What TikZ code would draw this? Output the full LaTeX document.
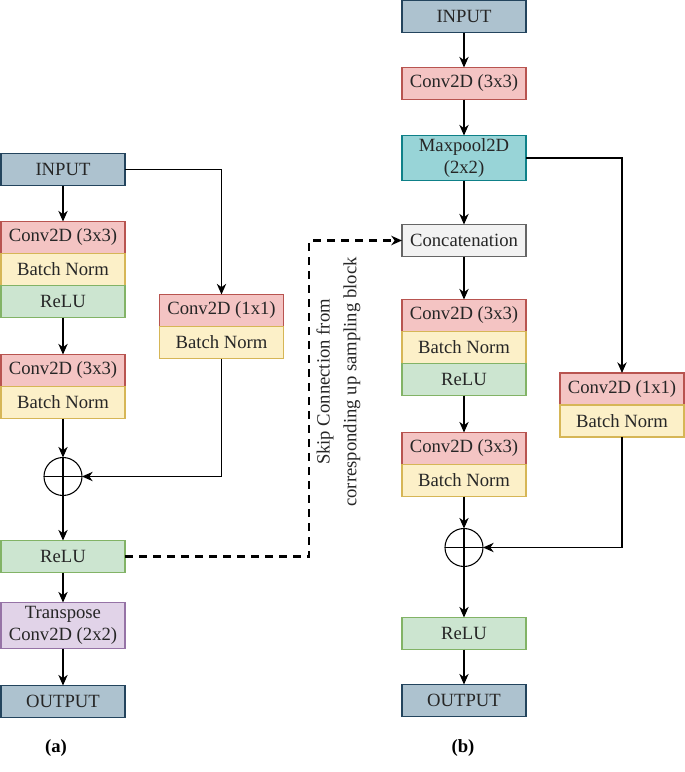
\documentclass[tikz,border=0pt]{standalone}
\usepackage{fontspec}
\setmainfont{Liberation Serif}
\usetikzlibrary{positioning,arrows.meta}

\definecolor{ioFill}{HTML}{ADC2CF}
\definecolor{ioLine}{HTML}{23445D}
\definecolor{convFill}{HTML}{F4C4C3}
\definecolor{convLine}{HTML}{B85450}
\definecolor{bnFill}{HTML}{FCF0C8}
\definecolor{bnLine}{HTML}{D6B656}
\definecolor{reluFill}{HTML}{CCE5D0}
\definecolor{reluLine}{HTML}{82B366}
\definecolor{poolFill}{HTML}{98D4D7}
\definecolor{poolLine}{HTML}{0E8088}
\definecolor{catFill}{HTML}{F2F2F2}
\definecolor{catLine}{HTML}{666666}
\definecolor{tconvFill}{HTML}{E1D3E8}
\definecolor{tconvLine}{HTML}{9673A6}

\begin{document}
\begin{tikzpicture}[
    x=0.75pt, y=-0.75pt,
    font=\fontsize{14}{17}\selectfont,
    layer/.style={rectangle, draw, minimum width=93pt, minimum height=24pt, inner sep=0pt, outer sep=0pt, align=center, line width=0.8pt, text=black!85},
    io/.style={layer, fill=ioFill, draw=ioLine},
    conv/.style={layer, fill=convFill, draw=convLine},
    bn/.style={layer, fill=bnFill, draw=bnLine},
    relu/.style={layer, fill=reluFill, draw=reluLine},
    pool/.style={layer, fill=poolFill, draw=poolLine, minimum height=33.75pt},
    concat/.style={layer, fill=catFill, draw=catLine},
    tconv/.style={layer, fill=tconvFill, draw=tconvLine, minimum height=34.5pt},
    sum/.style={circle, draw, minimum size=28.5pt, inner sep=0pt, outer sep=0pt, line width=0.8pt,
        path picture={\draw[line width=0.8pt] (path picture bounding box.north) -- (path picture bounding box.south)
            (path picture bounding box.west) -- (path picture bounding box.east);}},
    arrow/.style={->, >={Stealth[length=8pt, width=7pt, inset=2.5pt]}, line width=0.9pt}
]
\useasboundingbox (0,0) rectangle (685,772);

% (a) main column
\node[io] (inA) at (63,169.5) {INPUT};
\node[conv, below=27pt of inA] (convA1) {Conv2D (3x3)};
\node[bn, below=0pt of convA1] (bnA1) {Batch Norm};
\node[relu, below=0pt of bnA1] (reluA1) {ReLU};
\node[conv, below=27.75pt of reluA1] (convA2) {Conv2D (3x3)};
\node[bn, below=0pt of convA2] (bnA2) {Batch Norm};
\node[sum, below=29.25pt of bnA2] (sumA) {};
\node[relu, below=33.75pt of sumA] (reluA3) {ReLU};
\node[tconv, below=22.5pt of reluA3] (tconvA) {Transpose\\Conv2D (2x2)};
\node[io, below=27.75pt of tconvA] (outA) {OUTPUT};

% (a) shortcut
\node[conv] (convAs) at (221.5,310.5) {Conv2D (1x1)};
\node[bn, below=0pt of convAs] (bnAs) {Batch Norm};

% (b) main column
\node[io] (inB) at (464,16.5) {INPUT};
\node[conv, below=26.25pt of inB] (convB0) {Conv2D (3x3)};
\node[pool, below=27pt of convB0] (poolB) {Maxpool2D\\(2x2)};
\node[concat, below=33pt of poolB] (catB) {Concatenation};
\node[conv, below=32.25pt of catB] (convB1) {Conv2D (3x3)};
\node[bn, below=0pt of convB1] (bnB1) {Batch Norm};
\node[relu, below=0pt of bnB1] (reluB1) {ReLU};
\node[conv, below=27.75pt of reluB1] (convB2) {Conv2D (3x3)};
\node[bn, below=0pt of convB2] (bnB2) {Batch Norm};
\node[sum, below=24pt of bnB2] (sumB) {};
\node[relu, below=38.25pt of sumB] (reluB3) {ReLU};
\node[io, below=26.25pt of reluB3] (outB) {OUTPUT};

% (b) shortcut
\node[conv] (convBs) at (622,389) {Conv2D (1x1)};
\node[bn, below=0pt of convBs] (bnBs) {Batch Norm};

% skip connection label
\coordinate (skipc) at (309,240.5);
\node[rotate=90, align=center, font=\fontsize{14}{20}\selectfont, text=black!85] (skiplbl) at (338.5,382)
    {Skip Connection from\\corresponding up sampling block};

% captions
\node[font=\fontsize{14}{17}\selectfont\bfseries] (capA) at (56,748) {(a)};
\node[font=\fontsize{14}{17}\selectfont\bfseries] (capB) at (463,748) {(b)};

% (a) edges
\draw[arrow] (inA) -- (convA1);
\draw[arrow] (reluA1) -- (convA2);
\draw[arrow] (bnA2) -- (sumA);
\draw[arrow] (sumA) -- (reluA3);
\draw[arrow] (reluA3) -- (tconvA);
\draw[arrow] (tconvA) -- (outA);
\draw[arrow] (inA.east) -| (convAs.north);
\draw[arrow] (bnAs.south) |- (sumA.east);

% (b) edges
\draw[arrow] (inB) -- (convB0);
\draw[arrow] (convB0) -- (poolB);
\draw[arrow] (poolB) -- (catB);
\draw[arrow] (catB) -- (convB1);
\draw[arrow] (reluB1) -- (convB2);
\draw[arrow] (bnB2) -- (sumB);
\draw[arrow] (sumB) -- (reluB3);
\draw[arrow] (reluB3) -- (outB);
\draw[arrow] (poolB.east) -| (convBs.north);
\draw[arrow] (bnBs.south) |- (sumB.east);

% dashed skip connection
\draw[arrow, line width=1.8pt, dash pattern=on 6pt off 4.5pt] (reluA3.east) -| (skipc) -- (catB.west);

\end{tikzpicture}
\end{document}
